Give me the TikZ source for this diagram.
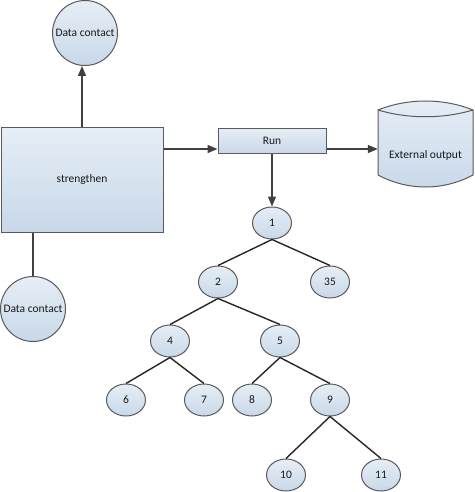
\documentclass[tikz,border=0pt]{standalone}
\usepackage{fontspec}
\setmainfont{Carlito}
\usetikzlibrary{arrows.meta,shapes.geometric}
\definecolor{fillA}{HTML}{E6EEF6}
\definecolor{fillB}{HTML}{C8D8E9}
\definecolor{edgecol}{HTML}{404040}
\definecolor{bordcol}{HTML}{5A5A5A}
\tikzset{
  shp/.style={draw=bordcol, line width=1pt, top color=fillA, bottom color=fillB, text=black!90, font=\fontsize{11.5}{13}\selectfont, inner sep=0pt},
  boxnode/.style={shp, rectangle},
  circnode/.style={shp, circle, minimum size=65pt},
  treenode/.style={shp, ellipse, minimum width=39pt, minimum height=32pt},
  arr/.style={draw=edgecol, line width=1.6pt, -{Triangle[length=10pt,width=8pt]}},
  plain/.style={draw=edgecol, line width=1.6pt},
  tedge/.style={draw=black!85, line width=1.4pt},
}
\begin{document}
\begin{tikzpicture}[x=1pt,y=-1pt]
\useasboundingbox (0,0) rectangle (474,492);
% main boxes
\node[boxnode, minimum width=162pt, minimum height=105pt] (s) at (82,179.5) {strengthen};
\node[circnode] (c1) at (85,33) {Data contact};
\node[circnode] (cb) at (33,309) {Data contact};
\node[boxnode, minimum width=108pt, minimum height=25pt] (r) at (272,140.5) {Run};
% cylinder
\path[shp] (378,110) .. controls (408,98) and (443,98) .. (473,110) -- (473,175) .. controls (443,191) and (408,191) .. (378,175) -- cycle;
\draw[draw=bordcol, line width=1pt] (378,110) .. controls (408,119) and (443,119) .. (473,110);
\node[minimum width=95pt, minimum height=65pt, inner sep=0pt] (ext) at (425.5,142.5) {};
\node[font=\fontsize{11.5}{13}\selectfont, text=black!90] (extlabel) at ([yshift=-13pt]ext.center) {External output};
% tree
\node[treenode] (n1) at (272,223) {1};
\node[treenode] (n2) at (218,282) {2};
\node[treenode] (n35) at (330,282) {35};
\node[treenode] (n4) at (170,341) {4};
\node[treenode] (n5) at (280,341) {5};
\node[treenode] (n6) at (126,400) {6};
\node[treenode] (n7) at (204,400) {7};
\node[treenode] (n8) at (252,400) {8};
\node[treenode] (n9) at (330,400) {9};
\node[treenode] (n10) at (286,475) {10};
\node[treenode] (n11) at (381,475) {11};
% connectors
\draw[arr] (s.north) -- (s.north |- c1.south);
\draw[plain] (cb.north |- s.south) -- (cb.north);
\coordinate (rwin) at ([yshift=-8.5pt]r.west);
\coordinate (rwout) at ([yshift=-8.5pt]r.east);
\draw[arr] (s.east |- rwin) -- (rwin);
\draw[arr] (rwout) -- (rwout -| ext.west);
\draw[arr] (r.south) -- (n1.north);
\draw[tedge] (n1.south) -- (n2.north);
\draw[tedge] (n1.south) -- (n35.north);
\draw[tedge] (n2.south) -- (n4.north);
\draw[tedge] (n2.south) -- (n5.north);
\draw[tedge] (n4.south) -- (n6.north);
\draw[tedge] (n4.south) -- (n7.north);
\draw[tedge] (n5.south) -- (n8.north);
\draw[tedge] (n5.south) -- (n9.north);
\draw[tedge] (n9.south) -- (n10.north);
\draw[tedge] (n9.south) -- (n11.north);
\end{tikzpicture}
\end{document}
